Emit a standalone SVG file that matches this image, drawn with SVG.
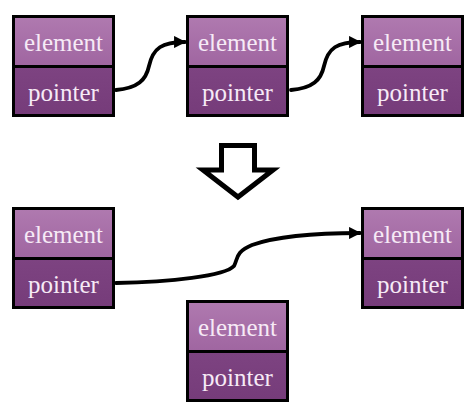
<svg xmlns="http://www.w3.org/2000/svg" width="474" height="407" viewBox="0 0 474 407">
<style>
.frame{fill:#000}
.el{fill:url(#ge)}
.pt{fill:url(#gp)}
.c{fill:none;stroke:#000;stroke-width:3.8;stroke-linecap:round}
</style>
<defs>
<linearGradient id="ge" x1="0" y1="0" x2="0" y2="1">
<stop offset="0" stop-color="#AF79AF"/>
<stop offset="1" stop-color="#A066A1"/>
</linearGradient>
<linearGradient id="gp" x1="0" y1="0" x2="0" y2="1">
<stop offset="0" stop-color="#7D4381"/>
<stop offset="1" stop-color="#763C7A"/>
</linearGradient>
<marker id="ah" viewBox="0 0 10 10" refX="9" refY="5" markerWidth="3.2" markerHeight="3.2" orient="auto" markerUnits="strokeWidth">
<path d="M0,0 L10,5 L0,10 z" fill="#000"/>
</marker>
</defs>
<g font-family="'Liberation Serif'" font-size="25" fill="#F6EAF6" text-anchor="middle">
<g id="n1" transform="translate(12,15)">
<rect class="frame" width="103" height="102"/>
<rect class="el" x="3" y="3" width="97" height="47"/>
<rect class="pt" x="3" y="53" width="97" height="46"/>
<text x="51.5" y="36">element</text>
<text x="51.5" y="86">pointer</text>
</g>
<g id="n2" transform="translate(186,15)">
<rect class="frame" width="103" height="102"/>
<rect class="el" x="3" y="3" width="97" height="47"/>
<rect class="pt" x="3" y="53" width="97" height="46"/>
<text x="51.5" y="36">element</text>
<text x="51.5" y="86">pointer</text>
</g>
<g id="n3" transform="translate(361,15)">
<rect class="frame" width="103" height="102"/>
<rect class="el" x="3" y="3" width="97" height="47"/>
<rect class="pt" x="3" y="53" width="97" height="46"/>
<text x="51.5" y="36">element</text>
<text x="51.5" y="86">pointer</text>
</g>
<g id="n4" transform="translate(12,207)">
<rect class="frame" width="103" height="102"/>
<rect class="el" x="3" y="3" width="97" height="47"/>
<rect class="pt" x="3" y="53" width="97" height="46"/>
<text x="51.5" y="36">element</text>
<text x="51.5" y="86">pointer</text>
</g>
<g id="n5" transform="translate(361,207)">
<rect class="frame" width="103" height="102"/>
<rect class="el" x="3" y="3" width="97" height="47"/>
<rect class="pt" x="3" y="53" width="97" height="46"/>
<text x="51.5" y="36">element</text>
<text x="51.5" y="86">pointer</text>
</g>
<g id="n6" transform="translate(186,300)">
<rect class="frame" width="103" height="102"/>
<rect class="el" x="3" y="3" width="97" height="47"/>
<rect class="pt" x="3" y="53" width="97" height="46"/>
<text x="51.5" y="36">element</text>
<text x="51.5" y="86">pointer</text>
</g>
</g>
<g id="bigarrow">
<polygon points="221.5,145.5 254.5,145.5 254.5,170 273,170 238,197 203,170 221.5,170" fill="#fff" stroke="#000" stroke-width="5" stroke-linejoin="miter"/>
</g>
<g id="connectors">
<path class="c" d="M116,90 C138,88 146,80 149,66 C153,48 162,42 185,42" marker-end="url(#ah)"/>
<path class="c" d="M291,90 C313,88 321,80 324,66 C328,48 337,42 360,42" marker-end="url(#ah)"/>
<path class="c" d="M116,283 C170,282 225,276 234,266 C238,259 235,252 252,245 C280,235 320,233 360,233" marker-end="url(#ah)"/>
</g>
</svg>
